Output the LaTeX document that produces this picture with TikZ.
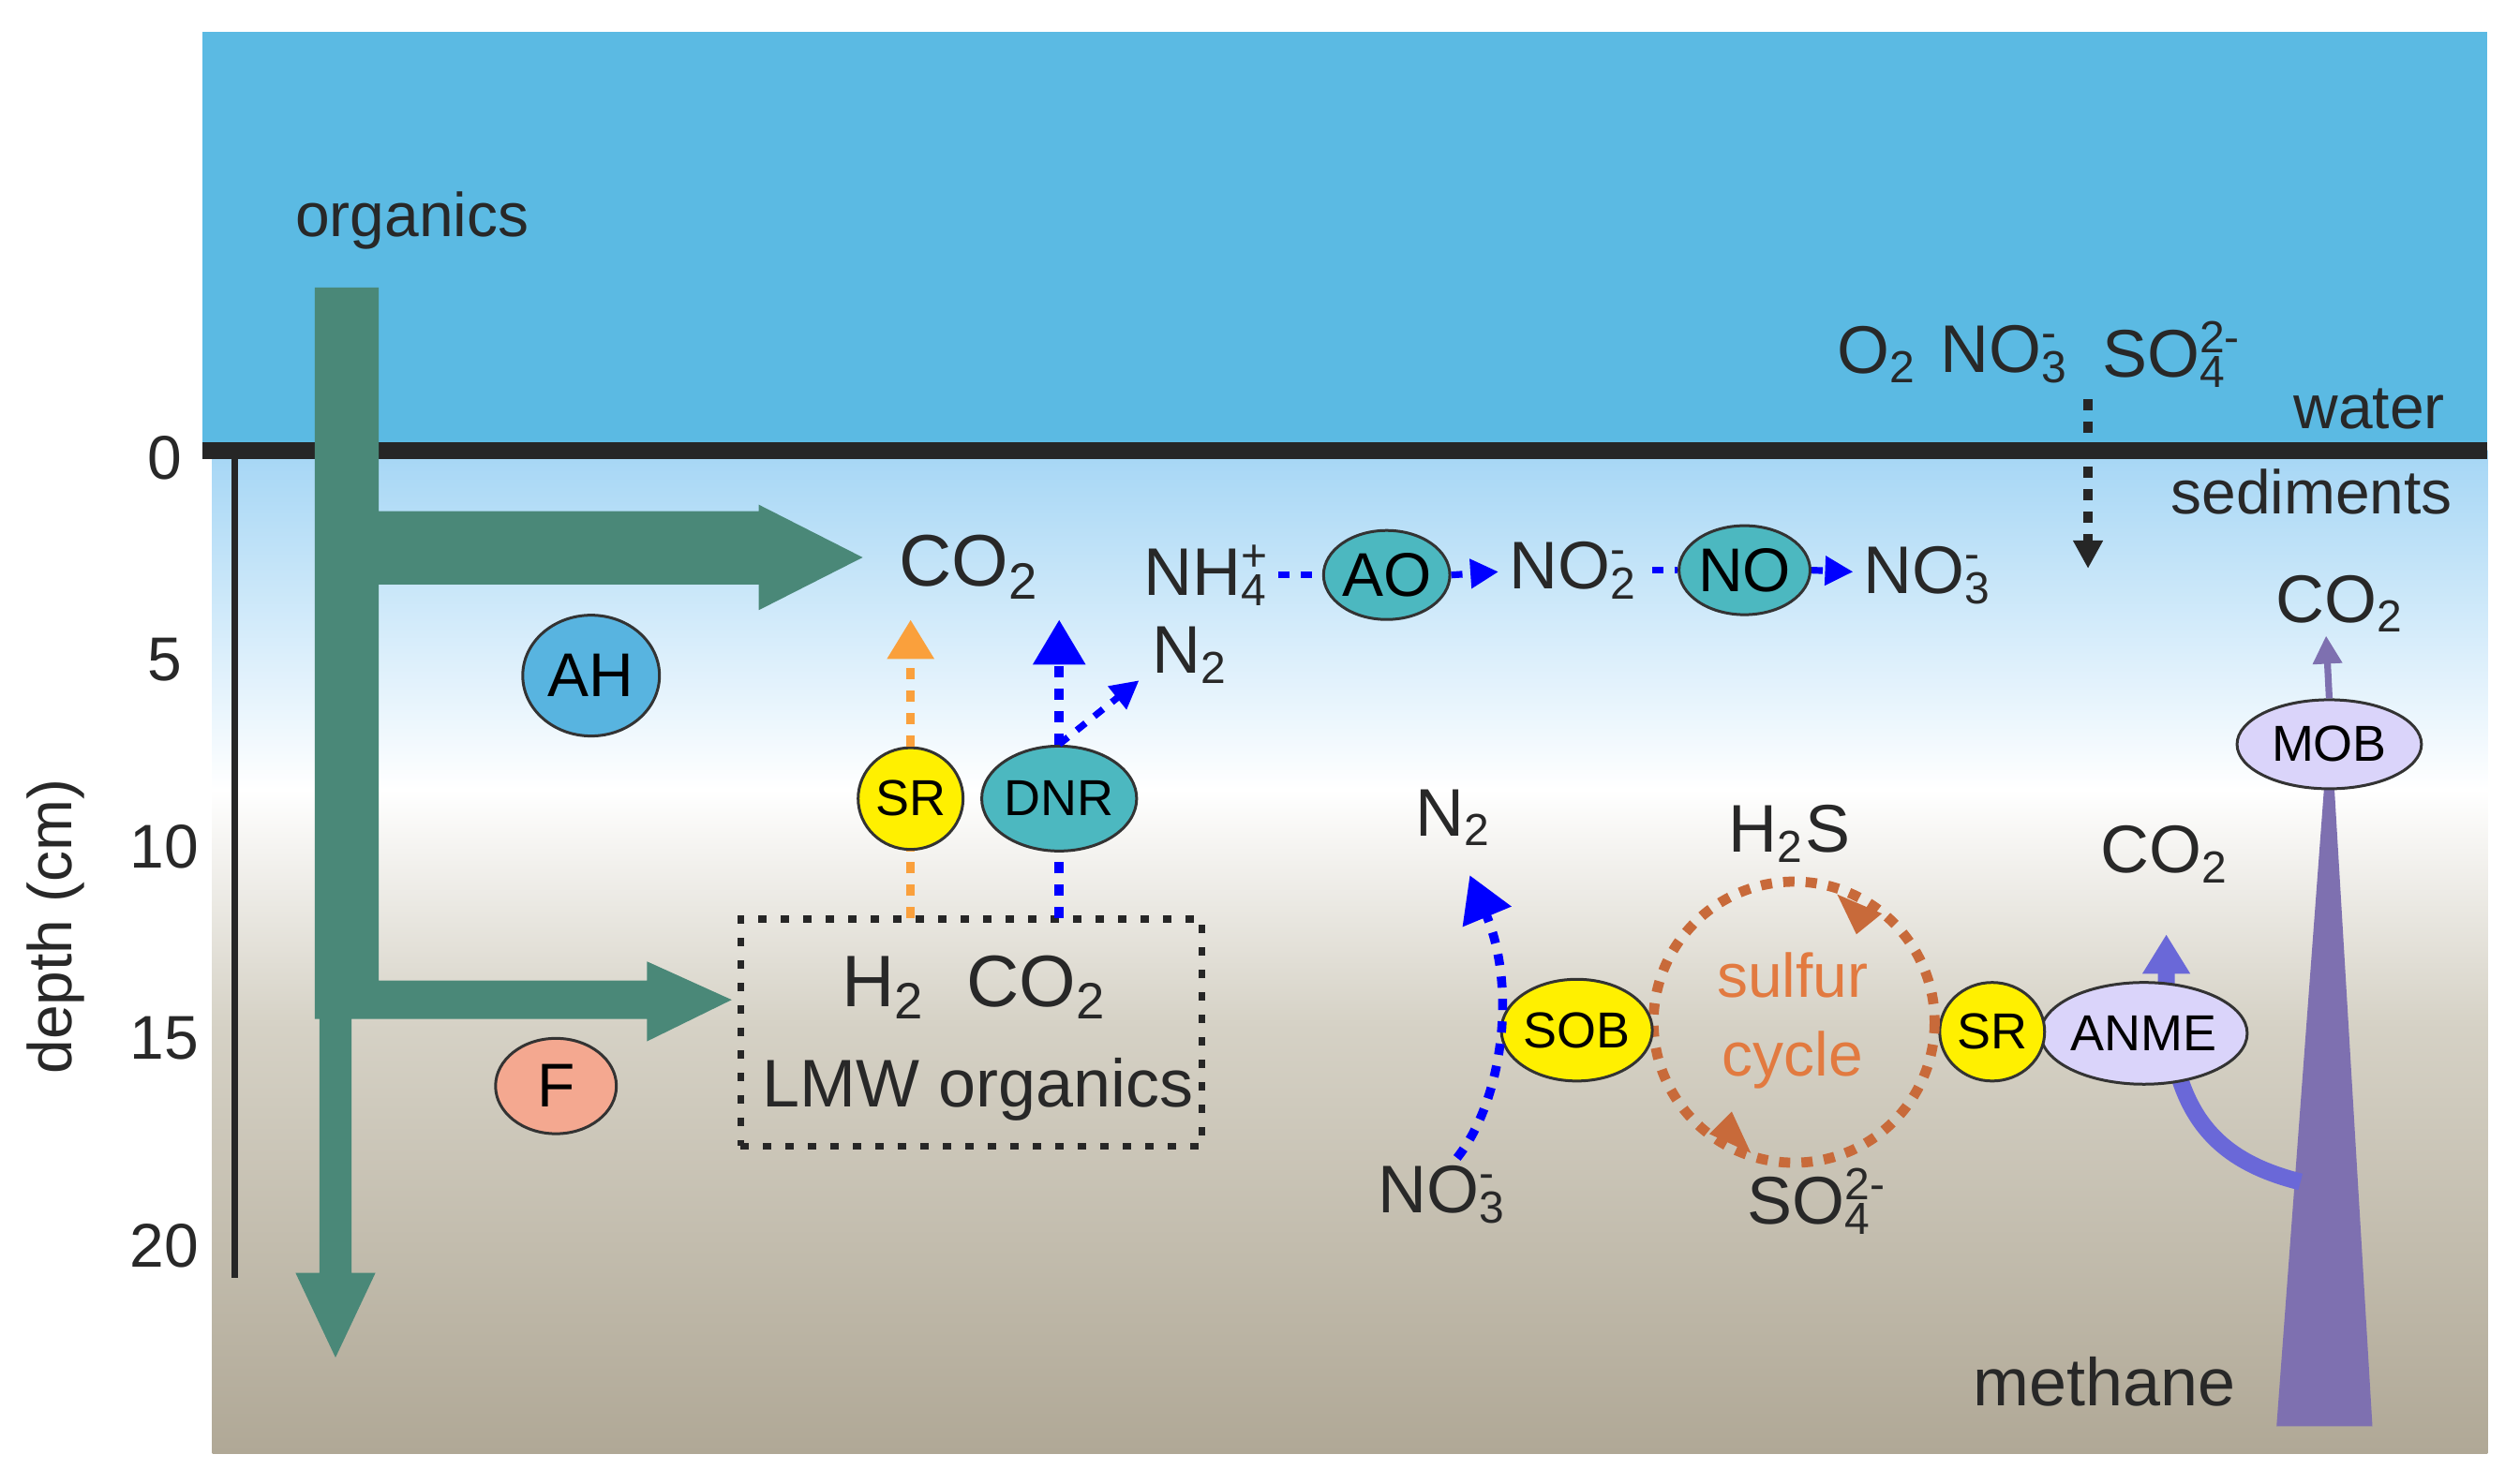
\documentclass[tikz,border=0pt]{standalone}
\usepackage{fontspec}
\setmainfont{Liberation Sans}
\usetikzlibrary{shapes.geometric,arrows.meta}
\newcommand{\subsup}[2]{\makebox[0pt][l]{\textsuperscript{#2}}\textsubscript{#1}}
\definecolor{water}{RGB}{91,186,227}
\definecolor{sedtop}{RGB}{165,214,245}
\definecolor{sedbot}{RGB}{176,168,150}
\definecolor{sedmid}{RGB}{214,210,198}
\definecolor{grn}{RGB}{74,136,120}
\definecolor{ahc}{RGB}{88,180,224}
\definecolor{fc}{RGB}{244,168,144}
\definecolor{teal}{RGB}{76,184,192}
\definecolor{yel}{RGB}{255,240,0}
\definecolor{lav}{RGB}{218,212,250}
\definecolor{purp}{RGB}{126,112,176}
\definecolor{purarr}{RGB}{106,104,216}
\definecolor{sulf}{RGB}{200,106,58}
\definecolor{sulft}{RGB}{226,122,64}
\definecolor{ora}{RGB}{250,160,60}
\definecolor{txt}{RGB}{40,40,40}
\tikzset{
 lbl/.style={font=\fontsize{11}{13}\selectfont, text=txt, inner sep=0pt},
 org/.style={ellipse, draw=black!80, line width=0.5pt, inner sep=0pt, font=\fontsize{9}{11}\selectfont},
 bdot/.style={blue, line width=1.6pt, dash pattern=on 2pt off 2pt},
 shead/.style={-{Triangle[length=5pt,width=5pt]}},
}
\begin{document}
\begin{tikzpicture}[x=0.01cm,y=-0.01cm]
\useasboundingbox (0,0) rectangle (1568,929);
\fill[white] (0,0) rectangle (1568,929);
% background
\fill[water] (127,20) rectangle (1557,282);
\shade[top color=sedtop, bottom color=white] (133,282) rectangle (1557,495);
\shade[top color=white, bottom color=sedmid] (133,494) rectangle (1557,640);
\shade[top color=sedmid, bottom color=sedbot] (133,639) rectangle (1557,910);
\draw[line width=3pt, black!85] (127,282) -- (1557,282);
% axis
\draw[line width=1.2pt, black!85] (147,282) -- (147,800);
\foreach \y/\t in {287/0,413/5,530/10,650/15,780/20}{
  \node[lbl] (t\t) at (103,\y) {\t};
}
\node[lbl, rotate=90] (depth) at (35,580) {depth (cm)};
% organics arrows
\node[lbl] (organics) at (258,138) {organics};
\fill[grn] (197,180) -- (237,180) -- (237,320) -- (475,320) -- (475,316) -- (540,349) -- (475,382) -- (475,366) -- (237,366) -- (237,614) -- (405,614) -- (405,602) -- (458,626) -- (405,652) -- (405,638) -- (220,638) -- (220,797) -- (235,797) -- (210,850) -- (185,797) -- (200,797) -- (200,638) -- (197,638) -- cycle;
\node[org, fill=ahc, minimum width=86pt*0.283, minimum height=76pt*0.283, font=\fontsize{11}{13}\selectfont] (AH) at (370,423) {AH};
\node[org, fill=fc, minimum width=76pt*0.283, minimum height=60pt*0.283, font=\fontsize{11}{13}\selectfont] (F) at (348,680) {F};
% left processes
\node[lbl, font=\fontsize{13}{15}\selectfont] (co2a) at (607,355) {CO\textsubscript{2}};
\node[org, fill=yel, minimum width=66pt*0.283, minimum height=64pt*0.283] (SR1) at (570,500) {SR};
\node[org, fill=teal, minimum width=96pt*0.283, minimum height=66pt*0.283] (DNR) at (663,500) {DNR};
\node[draw=black!85, line width=1.3pt, dash pattern=on 1.5pt off 2.5pt, minimum width=290pt*0.283, minimum height=143pt*0.283, inner sep=0pt] (box) at (608,646.5) {};
\node[lbl, font=\fontsize{13}{15}\selectfont] (h2co2) at (610,618) {H\textsubscript{2}\ \ CO\textsubscript{2}};
\node[lbl, font=\fontsize{12}{14}\selectfont] (lmw) at (612,682) {LMW organics};
\draw[ora, line width=1.6pt, dash pattern=on 2pt off 2pt] (570,575) -- (SR1.south);
\draw[ora, line width=1.6pt, dash pattern=on 2pt off 2pt, -{Triangle[length=7pt,width=8pt]}] (SR1.north) -- (570,388);
\draw[bdot] (663,575) -- (DNR.south);
\draw[bdot, -{Triangle[length=8pt,width=9pt]}] (DNR.north) -- (663,388);
\coordinate (dn) at (663,466);
\node[lbl, font=\fontsize{12}{14}\selectfont] (n2a) at (745,410) {N\textsubscript{2}};
\draw[bdot, line width=1.2pt, shead] (dn) -- (713,426);
% nitrification
\node[lbl, font=\fontsize{12}{14}\selectfont] (nh4) at (755,360) {NH\subsup{4}{+}};
\node[org, fill=teal, minimum width=76pt*0.283, minimum height=56pt*0.283, font=\fontsize{11}{13}\selectfont] (AO) at (868,360) {AO};
\node[lbl, font=\fontsize{12}{14}\selectfont] (no2) at (985,357) {NO\subsup{2}{-}};
\node[org, fill=teal, minimum width=76pt*0.283, minimum height=56pt*0.283, font=\fontsize{11}{13}\selectfont] (NO) at (1092,357) {NO};
\node[lbl, font=\fontsize{12}{14}\selectfont] (no3a) at (1207,360) {NO\subsup{3}{-}};
\draw[bdot, line width=1.2pt] (800,360) -- (AO.west);
\draw[bdot, line width=1.2pt, shead] (AO.east) -- (938,358);
\draw[bdot, line width=1.2pt] (1034,357) -- (NO.west);
\draw[bdot, line width=1.2pt, shead] (NO.east) -- (1160,358);
% top right
\node[lbl, font=\fontsize{12}{14}\selectfont] (o2) at (1175,222) {O\textsubscript{2}};
\node[lbl, font=\fontsize{12}{14}\selectfont] (no3t) at (1255,222) {NO\subsup{3}{-}};
\node[lbl, font=\fontsize{12}{14}\selectfont] (so4t) at (1355,222) {SO\subsup{4}{2-}};
\node[lbl] (water) at (1483,256) {water};
\node[lbl] (sed) at (1447,308) {sediments};
\coordinate (ds) at (1307,250);
\coordinate (de) at (1307,356);
\draw[black!85, line width=1.6pt, dash pattern=on 2pt off 2pt, shead] (ds) -- (de);
% methane
\fill[purp] (1425,893) -- (1485,893) -- (1461,490) -- (1455,490) -- cycle;
\node[lbl, font=\fontsize{12}{14}\selectfont] (methane) at (1317,865) {methane};
\node[org, fill=lav, minimum width=116pt*0.283, minimum height=56pt*0.283] (MOB) at (1458,466) {MOB};
\node[lbl, font=\fontsize{12}{14}\selectfont] (co2m) at (1465,378) {CO\textsubscript{2}};
\draw[purp, line width=1.2pt, shead] (MOB.north) -- (1456,398);
\coordinate (ms) at (1440,740);
\draw[purarr, line width=3pt, -{Triangle[length=7pt,width=8pt]}] (ms) .. controls (1380,725) and (1356,690) .. (1356,585);
\node[org, fill=lav, minimum width=116pt*0.283, minimum height=64pt*0.283] (ANME) at (1342,647) {ANME};
\node[org, fill=yel, minimum width=66pt*0.283, minimum height=62pt*0.283] (SR2) at (1247,646) {SR};
\node[lbl, font=\fontsize{12}{14}\selectfont] (co2n) at (1355,535) {CO\textsubscript{2}};
% sulfur cycle
\draw[sulf, line width=1.8pt, dash pattern=on 2pt off 2pt] (1123,640) circle (88);
\fill[sulf] (1150,560) -- (1178,572) -- (1162,585) -- cycle;
\fill[sulf] (1096,722) -- (1070,710) -- (1084,696) -- cycle;
\node[lbl, text=sulft, align=center, font=\fontsize{11}{14}\selectfont] (sc) at (1122,639) {sulfur\\cycle};
\node[lbl, font=\fontsize{12}{14}\selectfont] (h2s) at (1120,522) {H\textsubscript{2}S};
\node[lbl, font=\fontsize{12}{14}\selectfont] (so4b) at (1133,752) {SO\subsup{4}{2-}};
\node[org, fill=yel, minimum width=86pt*0.283, minimum height=64pt*0.283] (SOB) at (987,645) {SOB};
\node[lbl, font=\fontsize{12}{14}\selectfont] (n2b) at (910,512) {N\textsubscript{2}};
\node[lbl, font=\fontsize{12}{14}\selectfont] (no3b) at (903,748) {NO\subsup{3}{-}};
\coordinate (cs) at (912,725);
\draw[bdot, -{Triangle[length=8pt,width=9pt]}] (cs) .. controls (940,690) and (950,620) .. (920,548);
\end{tikzpicture}
\end{document}
